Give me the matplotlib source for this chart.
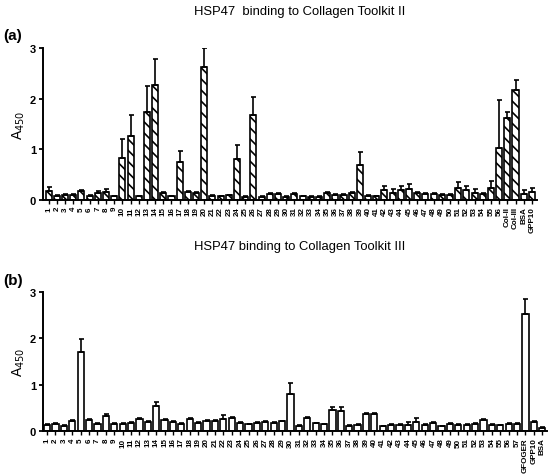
import numpy as np
import matplotlib
matplotlib.use("Agg")
import matplotlib.pyplot as plt

plt.rcParams["font.family"] = ["Liberation Sans", "DejaVu Sans"]
plt.rcParams["hatch.linewidth"] = 1.2

# Panel (a): Collagen Toolkit II
labels_a = [str(i) for i in range(1, 57)] + ["Col-II", "Col-III", "BSA", "GPP10"]
mean_a = [0.17, 0.08, 0.09, 0.10, 0.17, 0.08, 0.14, 0.15, 0.07, 0.82,
          1.27, 0.07, 1.74, 2.28, 0.14, 0.07, 0.75, 0.16, 0.14, 2.62,
          0.08, 0.07, 0.09, 0.81, 0.06, 1.67, 0.06, 0.12, 0.11, 0.06,
          0.12, 0.07, 0.06, 0.06, 0.13, 0.10, 0.10, 0.14, 0.68, 0.08,
          0.07, 0.19, 0.14, 0.20, 0.22, 0.13, 0.11, 0.11, 0.10, 0.10,
          0.23, 0.19, 0.14, 0.12, 0.23, 1.02, 1.62, 2.17, 0.12, 0.15]
err_a = [0.09, 0.01, 0.02, 0.02, 0.02, 0.01, 0.03, 0.06, 0.01, 0.38,
         0.40, 0.01, 0.52, 0.50, 0.02, 0.01, 0.21, 0.02, 0.02, 0.38,
         0.01, 0.01, 0.01, 0.28, 0.01, 0.37, 0.01, 0.02, 0.02, 0.01,
         0.02, 0.01, 0.01, 0.01, 0.03, 0.02, 0.02, 0.02, 0.27, 0.01,
         0.01, 0.08, 0.07, 0.07, 0.09, 0.02, 0.02, 0.02, 0.02, 0.02,
         0.13, 0.09, 0.07, 0.02, 0.14, 0.95, 0.12, 0.20, 0.07, 0.08]

# Panel (b): Collagen Toolkit III
labels_b = [str(i) for i in range(1, 58)] + ["GFOGER", "GPP10", "BSA"]
mean_b = [0.14, 0.16, 0.12, 0.22, 1.70, 0.24, 0.16, 0.32, 0.16, 0.16,
          0.18, 0.27, 0.20, 0.54, 0.24, 0.19, 0.16, 0.26, 0.18, 0.22,
          0.22, 0.26, 0.28, 0.18, 0.15, 0.18, 0.20, 0.18, 0.21, 0.79,
          0.12, 0.28, 0.17, 0.15, 0.45, 0.44, 0.12, 0.14, 0.38, 0.38,
          0.11, 0.14, 0.14, 0.14, 0.20, 0.14, 0.18, 0.11, 0.16, 0.14,
          0.14, 0.16, 0.25, 0.14, 0.13, 0.16, 0.16, 2.52, 0.19, 0.07]
err_b = [0.01, 0.01, 0.01, 0.02, 0.29, 0.02, 0.01, 0.05, 0.01, 0.01,
         0.01, 0.02, 0.01, 0.09, 0.02, 0.02, 0.01, 0.02, 0.01, 0.02,
         0.02, 0.08, 0.02, 0.01, 0.01, 0.01, 0.02, 0.01, 0.01, 0.24,
         0.01, 0.02, 0.01, 0.01, 0.08, 0.07, 0.01, 0.01, 0.02, 0.02,
         0.01, 0.01, 0.01, 0.05, 0.08, 0.01, 0.02, 0.01, 0.01, 0.01,
         0.01, 0.01, 0.02, 0.01, 0.01, 0.01, 0.01, 0.32, 0.02, 0.01]


def draw_panel(ax, labels, mean, err, hatch, xlim):
    x = np.arange(len(labels))
    ax.bar(x, mean, width=0.74, color="white", edgecolor="black",
           linewidth=1.2, hatch=hatch, zorder=2)
    ax.errorbar(x, mean, yerr=[np.zeros(len(err)), err], fmt="none",
                ecolor="black", elinewidth=1.2, capsize=1.8, capthick=1.2, zorder=3)
    ax.set_xlim(*xlim)
    ax.set_ylim(0, 3)
    ax.set_yticks([0, 1, 2, 3])
    ax.set_yticklabels(["0", "1", "2", "3"], fontsize=8, fontweight="bold")
    ax.set_xticks(x)
    ax.set_xticklabels(labels, rotation=90, fontsize=5.8, fontweight="bold")
    ax.tick_params(axis="x", length=3, width=1.0, pad=1.5)
    ax.tick_params(axis="y", length=3, width=1.3, pad=2)
    for side in ["top", "right"]:
        ax.spines[side].set_visible(False)
    for side in ["left", "bottom"]:
        ax.spines[side].set_linewidth(1.4)
    ax.set_ylabel("A$_{450}$", fontsize=10, labelpad=2)


fig = plt.figure(figsize=(5.5, 4.77), dpi=100)
ax1 = fig.add_axes([0.078, 0.579, 0.898, 0.318])
ax2 = fig.add_axes([0.078, 0.094, 0.917, 0.292])

draw_panel(ax1, labels_a, mean_a, err_a, "\\\\\\", (-0.7, 59.6))
draw_panel(ax2, labels_b, mean_b, err_b, None, (-0.5, 59.6))

fig.text(0.545, 0.975, "HSP47  binding to Collagen Toolkit II", ha="center",
         va="center", fontsize=9.4)
fig.text(0.545, 0.482, "HSP47 binding to Collagen Toolkit III", ha="center",
         va="center", fontsize=9.4)
fig.text(0.005, 0.925, "(a)", fontsize=11, fontweight="bold", va="center")
fig.text(0.005, 0.41, "(b)", fontsize=11, fontweight="bold", va="center")

fig.savefig("out.png", dpi=100)
